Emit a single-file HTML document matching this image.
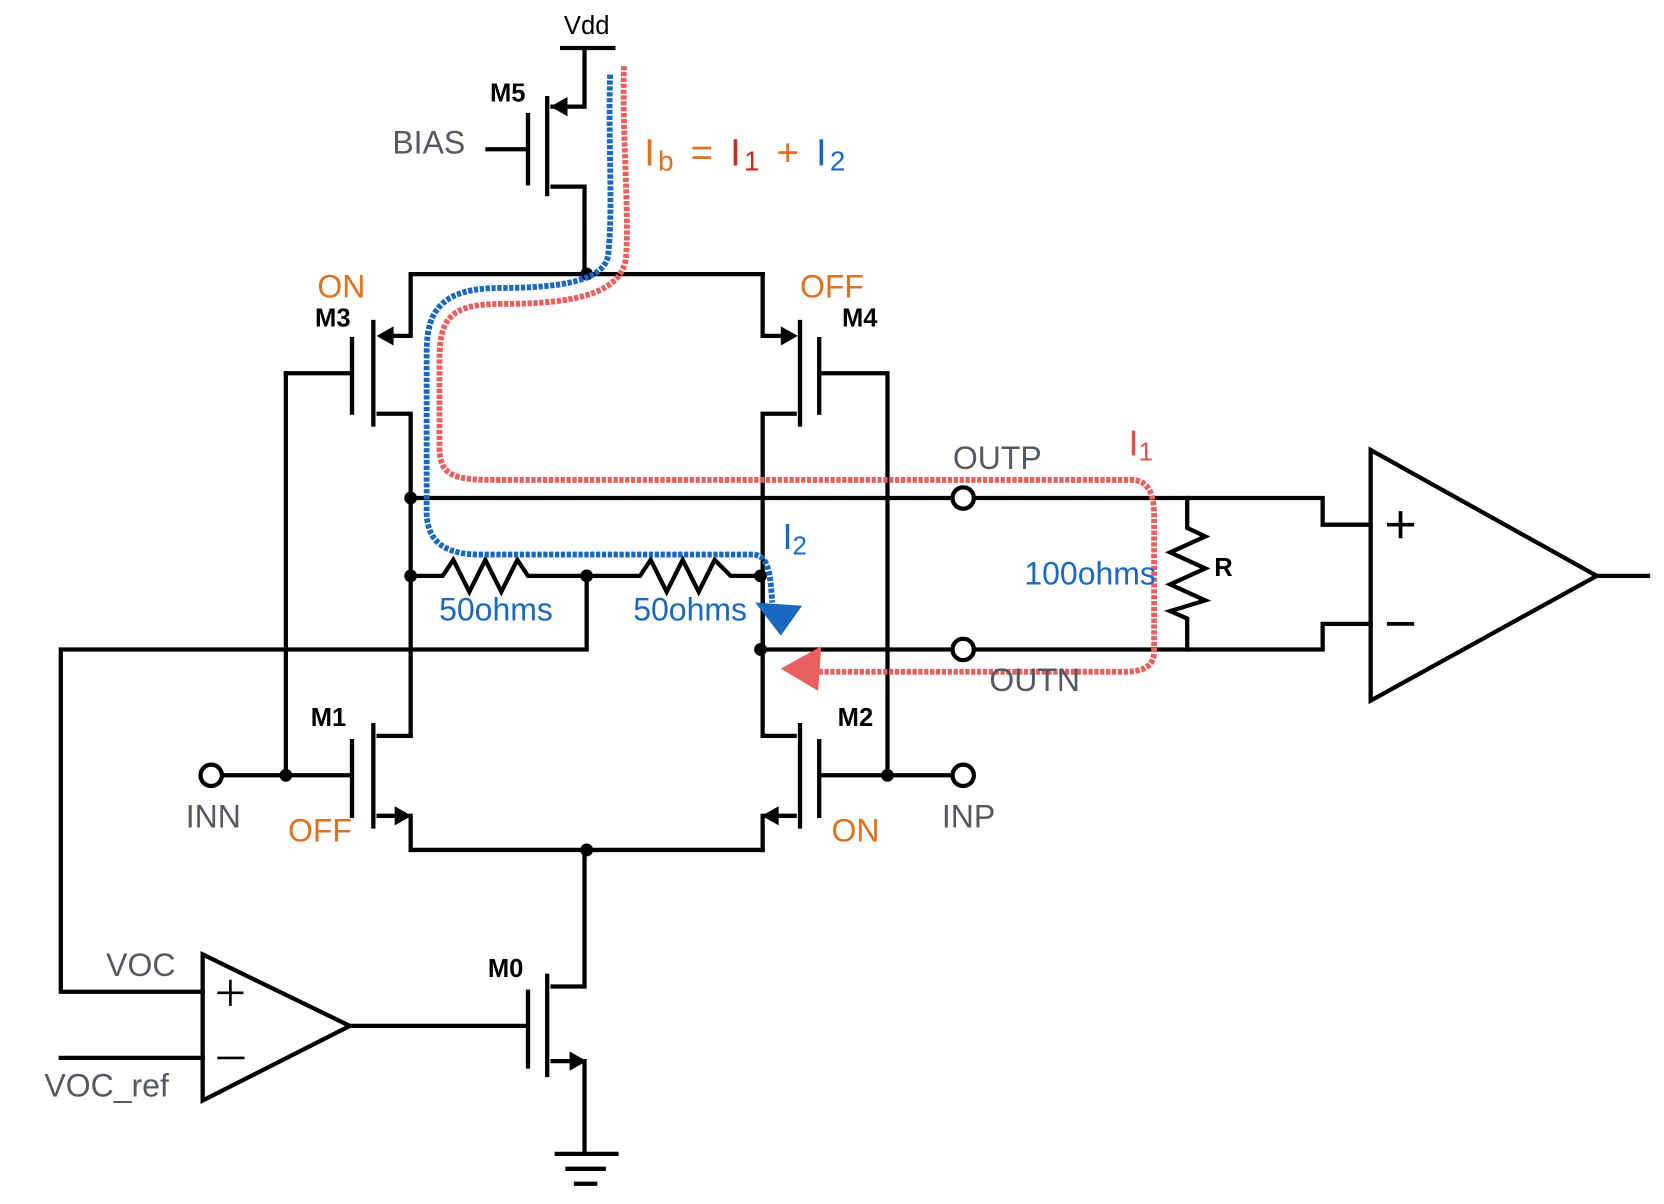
<!DOCTYPE html>
<html><head><style>html,body{margin:0;padding:0;background:#fff;}svg{display:block}</style></head>
<body>
<svg width="1664" height="1204" viewBox="0 0 1560 1129" preserveAspectRatio="none" xmlns="http://www.w3.org/2000/svg">
<g stroke="#000" stroke-width="4" fill="none" stroke-linecap="square">
<path d="M527 45H575M548 45V100H518"/>
<path d="M513 92V182M495 108V172M457 140H495M518 175H548V257"/>
<path d="M385 257H715"/>
<path d="M385 257V315H360M350 302V398M330 318V387M268 350H330M355 388H385V690"/>
<path d="M715 257V315H740M750 302V398M768 318V387M768 350H832V727M745 388H715V690"/>
<path d="M385 690H355M350 680V775M330 695V765M210 727H330M268 350V727M355 765H378M385 765V797H715"/>
<path d="M715 690H745M750 680V775M768 695V765M768 727H891M745 765H722M715 765V797"/>
<path d="M385 467H891M915 467H1240V492H1285"/>
<path d="M715 609H891M915 609H1240V585H1285"/>
<path d="M715 540V609"/>
<path d="M385 540H415L425 525L440 555L455 525L470 555L485 525L495 540H600L610 525L625 555L640 525L655 555L670 525L685 540H715"/>
<path d="M550 540V609H57V930H190"/>
<path d="M1113 467V495L1130 503L1097 518L1130 533L1097 548L1130 563L1097 573L1113 580V609"/>
<path d="M1285 422V657L1497 540Z M1497 540H1545"/>
<path d="M1302 492H1324M1313 481V503M1302 585H1324" stroke-width="3.5"/>
<path d="M548 797V925H518M513 915V1008M495 930V1000M328 962H495M518 995H540M548 995V1082"/>
<path d="M522 1082H578M532 1096H566M540 1110H558"/>
<path d="M190 895V1032L328 962Z"/>
<path d="M57 992H190"/>
<path d="M205 931H227M216 920V942M205 992H228" stroke-width="2.5"/>
</g>
<g fill="#000">
<path d="M516 100L532 91V109Z"/>
<path d="M353 315L369 306V324Z"/>
<path d="M748 315L732 306V324Z"/>
<path d="M386 765L370 756V774Z"/>
<path d="M714 765L730 756V774Z"/>
<path d="M550 995L534 986V1004Z"/>
<circle cx="550" cy="257" r="6"/><circle cx="550" cy="797" r="6"/>
<circle cx="385" cy="467" r="6"/><circle cx="385" cy="540" r="6"/>
<circle cx="550" cy="540" r="6"/><circle cx="713" cy="540" r="6"/>
<circle cx="713" cy="609" r="6"/><circle cx="268" cy="727" r="6"/>
<circle cx="832" cy="727" r="6"/>
</g>
<g fill="#fff" stroke="#000" stroke-width="4">
<circle cx="903" cy="467" r="10"/><circle cx="903" cy="609" r="10"/>
<circle cx="198" cy="727" r="10"/><circle cx="903" cy="727" r="10"/>
</g>
<path d="M585 62C583 120 590 200 587 240C584 275 540 285 470 285C420 285 412 300 412 340V420C412 445 425 450 460 450H1060C1078 450 1082 465 1082 485V610C1082 627 1070 630 1050 630H765" stroke="#e96060" stroke-width="5.5" fill="none" stroke-dasharray="4 1.5"/>
<path d="M732 627L770 606L767 648Z" fill="#e96060"/>
<path d="M572 70C570 130 575 200 570 240C566 262 530 270 470 270C415 270 400 290 400 330V480C400 510 420 520 450 520H705C720 520 722 535 724 565" stroke="#1a68c0" stroke-width="5.5" fill="none" stroke-dasharray="4 1.5"/>
<path d="M708 565L752 568L732 596Z" fill="#1a68c0"/>
<g font-family="'Liberation Sans', sans-serif">
<text x="550" y="32" font-size="24" text-anchor="middle">Vdd</text>
<g font-weight="bold" font-size="24" text-anchor="middle">
<text x="476" y="95">M5</text><text x="312" y="306">M3</text><text x="806" y="306">M4</text>
<text x="308" y="681">M1</text><text x="802" y="681">M2</text><text x="474" y="916">M0</text>
<text x="1147" y="540">R</text></g>
<g fill="#555a60" font-size="30" text-anchor="middle">
<text x="402" y="144">BIAS</text><text x="200" y="776">INN</text><text x="908" y="776">INP</text>
<text x="935" y="440">OUTP</text><text x="970" y="648">OUTN</text>
<text x="132" y="915">VOC</text><text x="100" y="1028">VOC_ref</text></g>
<g fill="#e07020" font-size="30" text-anchor="middle">
<text x="320" y="279">ON</text><text x="780" y="279">OFF</text>
<text x="300" y="789">OFF</text><text x="802" y="789">ON</text></g>
<g fill="#1a68c0" font-size="30" text-anchor="middle">
<text x="465" y="582">50ohms</text><text x="647" y="582">50ohms</text>
<text x="1022" y="548">100ohms</text>
<text x="745" y="515" font-size="34">I<tspan font-size="24" dy="5">2</tspan></text></g>
<text x="1058" y="427" fill="#e05050" font-size="34">I<tspan font-size="24" dy="5">1</tspan></text>
<text x="604" y="155" font-size="36" fill="#e07020" letter-spacing="3">I<tspan font-size="26" dy="5">b</tspan><tspan dy="-5"> = </tspan><tspan fill="#cc2a20">I</tspan><tspan fill="#cc2a20" font-size="26" dy="5">1</tspan><tspan dy="-5"> + </tspan><tspan fill="#1a68c0">I</tspan><tspan fill="#1a68c0" font-size="26" dy="5">2</tspan></text>
</g>
</svg>
</body></html>
